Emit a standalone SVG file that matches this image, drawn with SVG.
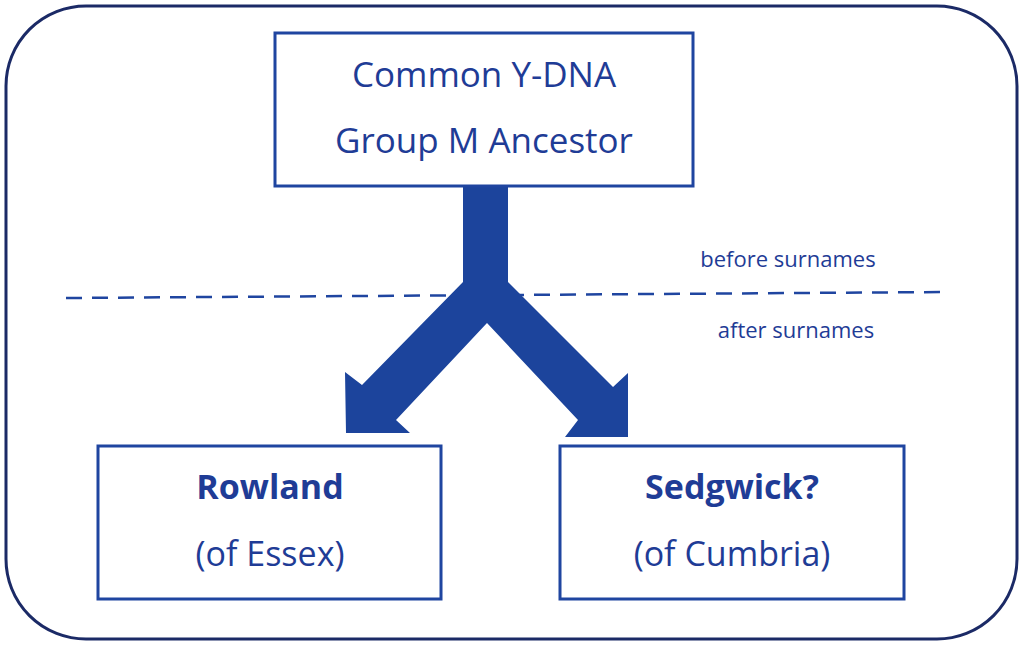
<svg xmlns="http://www.w3.org/2000/svg" width="1024" height="646" viewBox="0 0 1024 646">
<style>
.box{fill:#fff;stroke:#1f45a0;stroke-width:3}
.t{font-family:"Open Sans","Liberation Sans",sans-serif;fill:#1f3c96;text-anchor:middle}
</style>
<rect width="1024" height="646" fill="#fff"/>
<rect x="6" y="6" width="1011" height="633" rx="80" fill="#fff" stroke="#1b2a66" stroke-width="3"/>
<g id="connectors">
<line x1="66" y1="298" x2="948" y2="292" stroke="#1f45a0" stroke-width="2.5" stroke-dasharray="16,10"/>
<polygon points="463,186 508,186 508,282 613,387 628,373 628,437 565,437 578,420 487,323 396,420 410,433 346,433 345,372 362,385 463,282" fill="#1c449c"/>
<text class="t" x="788" y="267" font-size="22">before surnames</text>
<text class="t" x="796" y="338" font-size="22">after surnames</text>
</g>
<g id="ancestor">
<rect class="box" x="275" y="33" width="418" height="153"/>
<text class="t" x="484" y="87" font-size="35">Common Y-DNA</text>
<text class="t" x="484" y="153" font-size="35">Group M Ancestor</text>
</g>
<g id="rowland">
<rect class="box" x="98" y="446" width="343" height="153"/>
<text class="t" x="270" y="499" font-size="34" font-weight="bold">Rowland</text>
<text class="t" x="270" y="566" font-size="34">(of Essex)</text>
</g>
<g id="sedgwick">
<rect class="box" x="560" y="446" width="344" height="153"/>
<text class="t" x="732" y="499" font-size="34" font-weight="bold">Sedgwick?</text>
<text class="t" x="732" y="566" font-size="34">(of Cumbria)</text>
</g>
</svg>
